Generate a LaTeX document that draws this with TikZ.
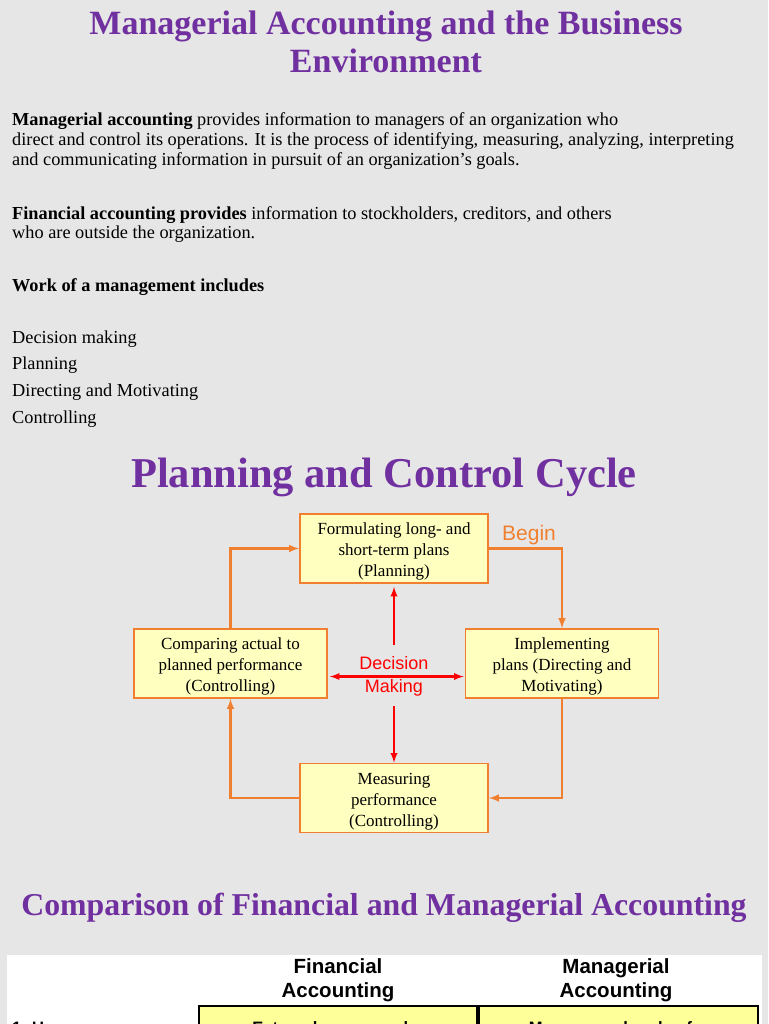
\documentclass[tikz,border=0pt]{standalone}
\usepackage{fontspec}
\setmainfont{Liberation Serif}
\newfontfamily\arialfont{Liberation Sans}
\usetikzlibrary{arrows,calc,positioning}
\definecolor{pageGray}{RGB}{230,230,230}
\definecolor{titlePurple}{RGB}{112,48,160}
\definecolor{cycleOrange}{RGB}{240,128,48}
\definecolor{boxYellow}{RGB}{255,255,192}
\definecolor{cellYellow}{RGB}{255,255,153}
\newcommand{\boxstrut}{\rule{0pt}{18pt}}
\tikzset{
	every node/.style={
		font=\fontsize{18.3}{20}\selectfont,
		inner sep=0pt
	},
	heading/.style={
		font=\bfseries\fontsize{34}{38}\selectfont,
		text=titlePurple
	},
	bodyline/.style={
		anchor=base west
	},
	stage/.style={
		shape=rectangle,
		draw=cycleOrange,
		line width=1.8pt,
		fill=boxYellow,
		minimum width=188pt,
		minimum height=69pt,
		align=center,
		font=\fontsize{17}{21}\selectfont
	},
	loopline/.style={
		draw=cycleOrange,
		line width=2.4pt,
		-latex
	},
	decision/.style={
		draw=red,
		line width=2.2pt,
		-latex
	},
	tablehead/.style={
		align=center,
		font=\arialfont\bfseries\fontsize{20.5}{24}\selectfont
	},
	cell/.style={
		shape=rectangle,
		draw=black,
		line width=2.2pt,
		fill=cellYellow,
		minimum width=278pt,
		minimum height=40pt
	},
	celltext/.style={
		anchor=base,
		font=\arialfont\bfseries\fontsize{16.5}{20}\selectfont
	}
}

\begin{document}
\begin{tikzpicture}[x=1pt,y=-1pt]
	
	\useasboundingbox (0,0) rectangle (768,1024);
	\clip (0,0) rectangle (768,1024);
	\fill[pageGray] (0,0) rectangle (768,1024);
	
	% titles
	\node[heading, anchor=base] (titleA) at (386,35) {Managerial Accounting and the Business};
	\node[heading, anchor=base] (titleB) at (386,73) {Environment};
	
	% text
	\node[bodyline] (pA1) at (12,126) {\textbf{Managerial accounting} provides information to managers of an organization who};
	\node[bodyline] (pA2) at (12,146) {direct and control its operations. It is the process of identifying, measuring, analyzing, interpreting};
	\node[bodyline] (pA3) at (12,166) {and communicating information in pursuit of an organization’s goals.};
	
	\node[bodyline] (pB1) at (12,219) {\textbf{Financial accounting provides} information to stockholders, creditors, and others};
	\node[bodyline] (pB2) at (12,239) {who are outside the organization.};
	
	\node[bodyline] (work) at (12,291) {\textbf{Work of a management includes}};
	
	\foreach \t [count=\i] in {Decision making, Planning, Directing and Motivating, Controlling} {
		\node[bodyline] (item\i) at (12,316.5+26.7*\i) {\t};
	}
	
	% cycle
	\node[heading, font=\bfseries\fontsize{42.5}{46}\selectfont, anchor=base] (cycleTitle) at (384,487) {Planning and Control Cycle};
	
	\node[stage] (plan) at (394,548.5) {\boxstrut Formulating long- and\\short-term plans\\(Planning)};
	\node[stage, minimum width=193pt] (implement) at (562,663.5) {\boxstrut Implementing\\plans (Directing and\\Motivating)};
	\node[stage] (measure) at (394,798) {\boxstrut Measuring\\performance\\(Controlling)};
	\node[stage, minimum width=193pt] (compare) at (230.5,663.5) {\boxstrut Comparing actual to\\planned performance\\(Controlling)};
	
	\node[font=\arialfont\fontsize{21}{24}\selectfont, text=cycleOrange, anchor=base] (begin) at (529,540) {Begin};
	
	\draw[loopline] (plan.east) -| (implement.north);
	\draw[loopline] (implement.south) |- (measure.east);
	\draw[loopline] (measure.west) -| (compare.south);
	\draw[loopline] (compare.north) |- (plan.west);
	
	\node[align=center, font=\arialfont\fontsize{18}{23}\selectfont, text=red] (dm) at (394,676.5) {Decision\\Making};
	\coordinate (dmTop) at (394,645);
	\coordinate (dmBottom) at (394,706);
	\draw[decision, shorten >=3pt] (dmTop) -- (plan.south);
	\draw[decision] (dmBottom) -- (measure.north);
	\draw[decision, latex-latex, shorten <=2pt, shorten >=1pt] (compare.east |- dm.center) -- (implement.west |- dm.center);
	
	% comparison table
	\node[heading, font=\bfseries\fontsize{31.8}{36}\selectfont, anchor=base] (compTitle) at (384,915) {Comparison of Financial and Managerial Accounting};
	
	\fill[white] (7,955) rectangle (762,1030);
	\node[tablehead] (finHead) at (338,980) {Financial\\Accounting};
	\node[tablehead] (manHead) at (616,980) {Managerial\\Accounting};
	
	\node[cell, anchor=north west] (finUsers) at (198,1005) {};
	\node[cell, anchor=north west, minimum width=279pt] (manUsers) at (finUsers.north east) {};
	\node[celltext] (finUsersText) at ($(finUsers.north)+(0,28)$) {External persons who};
	\node[celltext] (manUsersText) at ($(manUsers.north)+(0,28)$) {Managers who plan for};
	\node[celltext, anchor=base west] (users) at (12,1033) {1. Users};
	
\end{tikzpicture}
\end{document}
